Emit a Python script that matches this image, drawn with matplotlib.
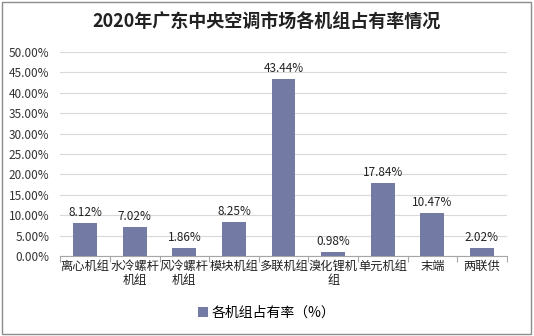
import numpy as np
import matplotlib.pyplot as plt
from matplotlib.patches import Rectangle

plt.rcParams['font.family'] = ['Noto Sans CJK SC', 'DejaVu Sans']

categories = ['离心机组', '水冷螺杆\n机组', '风冷螺杆\n机组', '模块机组', '多联机组',
              '溴化锂机\n组', '单元机组', '末端', '两联供']
shares = [8.12, 7.02, 1.86, 8.25, 43.44, 0.98, 17.84, 10.47, 2.02]
yticks = [0, 5, 10, 15, 20, 25, 30, 35, 40, 45, 50]

bar_color = '#737AA3'
grid_color = '#D9D9D9'
axis_color = '#A6A6A6'


def main():
    fig = plt.figure(figsize=(5.34, 3.36), dpi=100)
    ax = fig.add_axes([0.113, 0.238, 0.836, 0.607])

    x = np.arange(len(categories))
    bars = ax.bar(x, shares, width=0.48, color=bar_color, zorder=3,
                  label='各机组占有率（%）')
    for xi, v in zip(x, shares):
        ax.text(xi, v + 1.0, '%.2f%%' % v, ha='center', va='bottom',
                fontsize=8.5, color='#222222', zorder=4)

    ax.set_xlim(-0.5, len(categories) - 0.5)
    ax.set_ylim(0, 50)
    ax.set_yticks(yticks)
    ax.set_yticklabels(['%.2f%%' % t for t in yticks], fontsize=8.5, color='#333333')
    ax.yaxis.grid(True, color=grid_color, linewidth=0.8, zorder=0)
    ax.tick_params(axis='y', length=0, pad=8)

    ax.set_xticks(x)
    ax.set_xticklabels(categories, fontsize=8.8, color='#222222', linespacing=1.05)
    ax.set_xticks(np.arange(len(categories) + 1) - 0.5, minor=True)
    ax.tick_params(axis='x', which='major', length=0, pad=3)
    ax.tick_params(axis='x', which='minor', length=4, color=axis_color, width=0.8)

    for s in ['top', 'right', 'left']:
        ax.spines[s].set_visible(False)
    ax.spines['bottom'].set_color(axis_color)
    ax.spines['bottom'].set_linewidth(0.8)

    fig.text(0.5, 0.935, '2020年广东中央空调市场各机组占有率情况', ha='center', va='center',
             fontsize=13, fontweight='bold', color='#222222')

    fig.legend(handles=[bars], loc='center', bbox_to_anchor=(0.5, 0.068),
               frameon=False, fontsize=10, handlelength=0.7, handleheight=0.7,
               handletextpad=0.3)

    fig.patches.append(Rectangle((0.004, 0.006), 0.99, 0.988, transform=fig.transFigure,
                                 fill=False, edgecolor='#8C8C8C', linewidth=1.0))

    fig.savefig('out.png', dpi=100)


if __name__ == "__main__":
    main()
